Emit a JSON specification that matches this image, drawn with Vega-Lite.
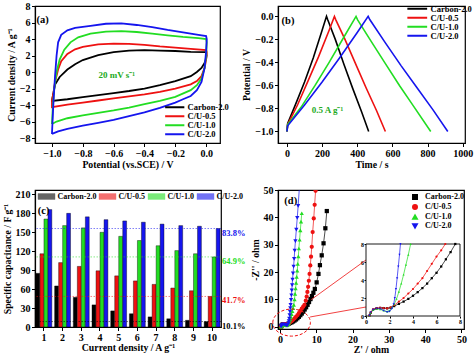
{
  "$schema": "https://vega.github.io/schema/vega-lite/v6.json",
  "autosize": {"type": "pad"},
  "padding": {"left": 1, "top": 0, "right": 0, "bottom": 0},
  "background": "white",
  "columns": 2,
  "spacing": {"row": 47, "column": 57},
  "bounds": "flush",
  "config": {
    "font": "Liberation Serif",
    "view": {"stroke": "black", "strokeWidth": 1.2},
    "axis": {"grid": false, "domainColor": "black", "domainWidth": 1.2, "tickColor": "black", "tickWidth": 1, "tickSize": 3.5, "labelColor": "black", "titleColor": "black", "labelFont": "Liberation Serif", "titleFont": "Liberation Serif", "labelFontWeight": "bold", "titleFontWeight": "bold", "labelFontSize": 10, "titleFontSize": 9.8, "labelPadding": 1.5, "titlePadding": 1, "labelOverlap": false, "labelFlush": false, "labelBound": false},
    "legend": {"labelFont": "Liberation Serif", "labelFontWeight": "bold", "labelFontSize": 8.5, "labelColor": "black", "padding": 0, "title": null},
    "text": {"font": "Liberation Serif", "fontWeight": "bold"}
  },
  "resolve": {"scale": {"color": "independent", "shape": "independent"}, "legend": {"color": "independent", "shape": "independent"}},
  "datasets": {
    "cv": [
      {"s":"Carbon-2.0","o":1,"e":-0.98,"j":-1.5},{"s":"Carbon-2.0","o":2,"e":-0.95,"j":-0.6},{"s":"Carbon-2.0","o":3,"e":-0.9,"j":0.3},{"s":"Carbon-2.0","o":4,"e":-0.85,"j":0.95},{"s":"Carbon-2.0","o":5,"e":-0.8,"j":1.45},{"s":"Carbon-2.0","o":6,"e":-0.7,"j":2.05},{"s":"Carbon-2.0","o":7,"e":-0.6,"j":2.4},{"s":"Carbon-2.0","o":8,"e":-0.5,"j":2.6},{"s":"Carbon-2.0","o":9,"e":-0.4,"j":2.65},{"s":"Carbon-2.0","o":10,"e":-0.3,"j":2.6},{"s":"Carbon-2.0","o":11,"e":-0.2,"j":2.55},{"s":"Carbon-2.0","o":12,"e":-0.1,"j":2.45},{"s":"Carbon-2.0","o":13,"e":0.0,"j":2.4},{"s":"Carbon-2.0","o":14,"e":0.003,"j":2.0},{"s":"Carbon-2.0","o":15,"e":0.0,"j":1.6},{"s":"Carbon-2.0","o":16,"e":-0.01,"j":1.1},{"s":"Carbon-2.0","o":17,"e":-0.03,"j":0.5},{"s":"Carbon-2.0","o":18,"e":-0.06,"j":0.0},{"s":"Carbon-2.0","o":19,"e":-0.1,"j":-0.5},{"s":"Carbon-2.0","o":20,"e":-0.2,"j":-1.1},{"s":"Carbon-2.0","o":21,"e":-0.3,"j":-1.6},{"s":"Carbon-2.0","o":22,"e":-0.4,"j":-2.0},{"s":"Carbon-2.0","o":23,"e":-0.5,"j":-2.3},{"s":"Carbon-2.0","o":24,"e":-0.6,"j":-2.55},{"s":"Carbon-2.0","o":25,"e":-0.7,"j":-2.8},{"s":"Carbon-2.0","o":26,"e":-0.8,"j":-3.05},{"s":"Carbon-2.0","o":27,"e":-0.9,"j":-3.3},{"s":"Carbon-2.0","o":28,"e":-1.0,"j":-3.5},{"s":"Carbon-2.0","o":29,"e":-0.99,"j":-2.5},{"s":"Carbon-2.0","o":30,"e":-0.98,"j":-1.5},
      {"s":"C/U-0.5","o":1,"e":-1.0,"j":-3.4},{"s":"C/U-0.5","o":2,"e":-0.99,"j":-2.5},{"s":"C/U-0.5","o":3,"e":-0.98,"j":-1.2},{"s":"C/U-0.5","o":4,"e":-0.96,"j":0.3},{"s":"C/U-0.5","o":5,"e":-0.94,"j":1.3},{"s":"C/U-0.5","o":6,"e":-0.9,"j":2.2},{"s":"C/U-0.5","o":7,"e":-0.85,"j":2.75},{"s":"C/U-0.5","o":8,"e":-0.8,"j":3.05},{"s":"C/U-0.5","o":9,"e":-0.7,"j":3.35},{"s":"C/U-0.5","o":10,"e":-0.6,"j":3.45},{"s":"C/U-0.5","o":11,"e":-0.5,"j":3.4},{"s":"C/U-0.5","o":12,"e":-0.4,"j":3.3},{"s":"C/U-0.5","o":13,"e":-0.3,"j":3.1},{"s":"C/U-0.5","o":14,"e":-0.2,"j":2.95},{"s":"C/U-0.5","o":15,"e":-0.1,"j":2.8},{"s":"C/U-0.5","o":16,"e":0.0,"j":2.65},{"s":"C/U-0.5","o":17,"e":0.004,"j":2.4},{"s":"C/U-0.5","o":18,"e":0.0,"j":1.5},{"s":"C/U-0.5","o":19,"e":-0.01,"j":0.5},{"s":"C/U-0.5","o":20,"e":-0.03,"j":-0.5},{"s":"C/U-0.5","o":21,"e":-0.06,"j":-1.1},{"s":"C/U-0.5","o":22,"e":-0.1,"j":-1.5},{"s":"C/U-0.5","o":23,"e":-0.2,"j":-2.0},{"s":"C/U-0.5","o":24,"e":-0.3,"j":-2.4},{"s":"C/U-0.5","o":25,"e":-0.4,"j":-2.7},{"s":"C/U-0.5","o":26,"e":-0.5,"j":-2.95},{"s":"C/U-0.5","o":27,"e":-0.6,"j":-3.2},{"s":"C/U-0.5","o":28,"e":-0.7,"j":-3.45},{"s":"C/U-0.5","o":29,"e":-0.8,"j":-3.7},{"s":"C/U-0.5","o":30,"e":-0.9,"j":-3.95},{"s":"C/U-0.5","o":31,"e":-1.0,"j":-4.25},{"s":"C/U-0.5","o":32,"e":-1.0,"j":-3.4},
      {"s":"C/U-1.0","o":1,"e":-1.0,"j":-6.3},{"s":"C/U-1.0","o":2,"e":-0.995,"j":-4.5},{"s":"C/U-1.0","o":3,"e":-0.985,"j":-2.0},{"s":"C/U-1.0","o":4,"e":-0.97,"j":0.0},{"s":"C/U-1.0","o":5,"e":-0.95,"j":1.5},{"s":"C/U-1.0","o":6,"e":-0.92,"j":2.7},{"s":"C/U-1.0","o":7,"e":-0.88,"j":3.6},{"s":"C/U-1.0","o":8,"e":-0.83,"j":4.2},{"s":"C/U-1.0","o":9,"e":-0.75,"j":4.65},{"s":"C/U-1.0","o":10,"e":-0.65,"j":4.9},{"s":"C/U-1.0","o":11,"e":-0.55,"j":4.95},{"s":"C/U-1.0","o":12,"e":-0.45,"j":4.85},{"s":"C/U-1.0","o":13,"e":-0.35,"j":4.65},{"s":"C/U-1.0","o":14,"e":-0.25,"j":4.45},{"s":"C/U-1.0","o":15,"e":-0.15,"j":4.25},{"s":"C/U-1.0","o":16,"e":-0.05,"j":4.1},{"s":"C/U-1.0","o":17,"e":0.0,"j":4.0},{"s":"C/U-1.0","o":18,"e":0.004,"j":3.6},{"s":"C/U-1.0","o":19,"e":0.0,"j":2.0},{"s":"C/U-1.0","o":20,"e":-0.01,"j":0.5},{"s":"C/U-1.0","o":21,"e":-0.03,"j":-0.8},{"s":"C/U-1.0","o":22,"e":-0.06,"j":-1.6},{"s":"C/U-1.0","o":23,"e":-0.1,"j":-2.2},{"s":"C/U-1.0","o":24,"e":-0.2,"j":-3.0},{"s":"C/U-1.0","o":25,"e":-0.3,"j":-3.5},{"s":"C/U-1.0","o":26,"e":-0.4,"j":-3.9},{"s":"C/U-1.0","o":27,"e":-0.5,"j":-4.3},{"s":"C/U-1.0","o":28,"e":-0.6,"j":-4.65},{"s":"C/U-1.0","o":29,"e":-0.7,"j":-4.95},{"s":"C/U-1.0","o":30,"e":-0.8,"j":-5.25},{"s":"C/U-1.0","o":31,"e":-0.9,"j":-5.6},{"s":"C/U-1.0","o":32,"e":-0.97,"j":-6.0},{"s":"C/U-1.0","o":33,"e":-1.0,"j":-6.3},
      {"s":"C/U-2.0","o":1,"e":-1.0,"j":-7.5},{"s":"C/U-2.0","o":2,"e":-0.995,"j":-5.5},{"s":"C/U-2.0","o":3,"e":-0.99,"j":-3.5},{"s":"C/U-2.0","o":4,"e":-0.98,"j":-0.5},{"s":"C/U-2.0","o":5,"e":-0.97,"j":2.0},{"s":"C/U-2.0","o":6,"e":-0.96,"j":3.6},{"s":"C/U-2.0","o":7,"e":-0.94,"j":4.5},{"s":"C/U-2.0","o":8,"e":-0.9,"j":5.05},{"s":"C/U-2.0","o":9,"e":-0.85,"j":5.35},{"s":"C/U-2.0","o":10,"e":-0.75,"j":5.6},{"s":"C/U-2.0","o":11,"e":-0.65,"j":5.85},{"s":"C/U-2.0","o":12,"e":-0.55,"j":5.9},{"s":"C/U-2.0","o":13,"e":-0.45,"j":5.7},{"s":"C/U-2.0","o":14,"e":-0.35,"j":5.45},{"s":"C/U-2.0","o":15,"e":-0.25,"j":5.1},{"s":"C/U-2.0","o":16,"e":-0.15,"j":4.8},{"s":"C/U-2.0","o":17,"e":-0.05,"j":4.5},{"s":"C/U-2.0","o":18,"e":0.0,"j":4.35},{"s":"C/U-2.0","o":19,"e":0.004,"j":4.0},{"s":"C/U-2.0","o":20,"e":0.0,"j":2.5},{"s":"C/U-2.0","o":21,"e":-0.01,"j":0.5},{"s":"C/U-2.0","o":22,"e":-0.03,"j":-1.2},{"s":"C/U-2.0","o":23,"e":-0.06,"j":-2.2},{"s":"C/U-2.0","o":24,"e":-0.1,"j":-2.9},{"s":"C/U-2.0","o":25,"e":-0.15,"j":-3.3},{"s":"C/U-2.0","o":26,"e":-0.2,"j":-3.7},{"s":"C/U-2.0","o":27,"e":-0.3,"j":-4.35},{"s":"C/U-2.0","o":28,"e":-0.4,"j":-4.9},{"s":"C/U-2.0","o":29,"e":-0.5,"j":-5.35},{"s":"C/U-2.0","o":30,"e":-0.6,"j":-5.8},{"s":"C/U-2.0","o":31,"e":-0.7,"j":-6.15},{"s":"C/U-2.0","o":32,"e":-0.8,"j":-6.5},{"s":"C/U-2.0","o":33,"e":-0.9,"j":-6.9},{"s":"C/U-2.0","o":34,"e":-0.96,"j":-7.2},{"s":"C/U-2.0","o":35,"e":-1.0,"j":-7.5}
    ],
    "gcd": [
      {"s":"Carbon-2.0","t":0,"v":-1.0},{"s":"Carbon-2.0","t":4,"v":-0.93},{"s":"Carbon-2.0","t":50,"v":-0.76},{"s":"Carbon-2.0","t":100,"v":-0.57},{"s":"Carbon-2.0","t":150,"v":-0.36},{"s":"Carbon-2.0","t":200,"v":-0.12},{"s":"Carbon-2.0","t":225,"v":0.0},{"s":"Carbon-2.0","t":232,"v":-0.03},{"s":"Carbon-2.0","t":275,"v":-0.2},{"s":"Carbon-2.0","t":325,"v":-0.42},{"s":"Carbon-2.0","t":375,"v":-0.63},{"s":"Carbon-2.0","t":425,"v":-0.83},{"s":"Carbon-2.0","t":465,"v":-1.0},
      {"s":"C/U-0.5","t":0,"v":-1.0},{"s":"C/U-0.5","t":4,"v":-0.94},{"s":"C/U-0.5","t":60,"v":-0.77},{"s":"C/U-0.5","t":120,"v":-0.56},{"s":"C/U-0.5","t":180,"v":-0.35},{"s":"C/U-0.5","t":240,"v":-0.12},{"s":"C/U-0.5","t":270,"v":0.0},{"s":"C/U-0.5","t":278,"v":-0.03},{"s":"C/U-0.5","t":330,"v":-0.2},{"s":"C/U-0.5","t":390,"v":-0.41},{"s":"C/U-0.5","t":450,"v":-0.62},{"s":"C/U-0.5","t":510,"v":-0.82},{"s":"C/U-0.5","t":560,"v":-1.0},
      {"s":"C/U-1.0","t":0,"v":-1.0},{"s":"C/U-1.0","t":4,"v":-0.94},{"s":"C/U-1.0","t":80,"v":-0.79},{"s":"C/U-1.0","t":160,"v":-0.6},{"s":"C/U-1.0","t":240,"v":-0.4},{"s":"C/U-1.0","t":320,"v":-0.19},{"s":"C/U-1.0","t":393,"v":0.0},{"s":"C/U-1.0","t":402,"v":-0.03},{"s":"C/U-1.0","t":480,"v":-0.22},{"s":"C/U-1.0","t":560,"v":-0.41},{"s":"C/U-1.0","t":640,"v":-0.6},{"s":"C/U-1.0","t":720,"v":-0.78},{"s":"C/U-1.0","t":818,"v":-1.0},
      {"s":"C/U-2.0","t":0,"v":-1.0},{"s":"C/U-2.0","t":4,"v":-0.95},{"s":"C/U-2.0","t":100,"v":-0.77},{"s":"C/U-2.0","t":200,"v":-0.57},{"s":"C/U-2.0","t":300,"v":-0.36},{"s":"C/U-2.0","t":400,"v":-0.14},{"s":"C/U-2.0","t":462,"v":0.0},{"s":"C/U-2.0","t":472,"v":-0.03},{"s":"C/U-2.0","t":560,"v":-0.23},{"s":"C/U-2.0","t":650,"v":-0.43},{"s":"C/U-2.0","t":740,"v":-0.62},{"s":"C/U-2.0","t":830,"v":-0.81},{"s":"C/U-2.0","t":915,"v":-1.0}
    ],
    "cap": [
      {"cd":"1","s":"Carbon-2.0","c":85},{"cd":"2","s":"Carbon-2.0","c":65},{"cd":"3","s":"Carbon-2.0","c":47},{"cd":"4","s":"Carbon-2.0","c":35},{"cd":"5","s":"Carbon-2.0","c":25.5},{"cd":"6","s":"Carbon-2.0","c":21},{"cd":"7","s":"Carbon-2.0","c":16},{"cd":"8","s":"Carbon-2.0","c":13},{"cd":"9","s":"Carbon-2.0","c":10.6},{"cd":"10","s":"Carbon-2.0","c":8.6},
      {"cd":"1","s":"C/U-0.5","c":116},{"cd":"2","s":"C/U-0.5","c":102},{"cd":"3","s":"C/U-0.5","c":96},{"cd":"4","s":"C/U-0.5","c":89},{"cd":"5","s":"C/U-0.5","c":81},{"cd":"6","s":"C/U-0.5","c":73},{"cd":"7","s":"C/U-0.5","c":67.5},{"cd":"8","s":"C/U-0.5","c":61.7},{"cd":"9","s":"C/U-0.5","c":57.4},{"cd":"10","s":"C/U-0.5","c":48.4},
      {"cd":"1","s":"C/U-1.0","c":171},{"cd":"2","s":"C/U-1.0","c":160.6},{"cd":"3","s":"C/U-1.0","c":157},{"cd":"4","s":"C/U-1.0","c":150},{"cd":"5","s":"C/U-1.0","c":143.6},{"cd":"6","s":"C/U-1.0","c":137},{"cd":"7","s":"C/U-1.0","c":128.7},{"cd":"8","s":"C/U-1.0","c":121},{"cd":"9","s":"C/U-1.0","c":116},{"cd":"10","s":"C/U-1.0","c":111},
      {"cd":"1","s":"C/U-2.0","c":186},{"cd":"2","s":"C/U-2.0","c":180},{"cd":"3","s":"C/U-2.0","c":174.5},{"cd":"4","s":"C/U-2.0","c":170},{"cd":"5","s":"C/U-2.0","c":168},{"cd":"6","s":"C/U-2.0","c":166},{"cd":"7","s":"C/U-2.0","c":163},{"cd":"8","s":"C/U-2.0","c":160.6},{"cd":"9","s":"C/U-2.0","c":159.6},{"cd":"10","s":"C/U-2.0","c":156}
    ],
    "pct": [
      {"s":"C/U-2.0","line":156,"lab":"83.8%"},
      {"s":"C/U-1.0","line":111,"lab":"64.9%"},
      {"s":"C/U-0.5","line":48.4,"lab":"41.7%"},
      {"s":"Carbon-2.0","line":8.6,"lab":"10.1%"}
    ],
    "eis": [
      {"s":"Carbon-2.0","zr":0.3,"zi":0.05},{"s":"Carbon-2.0","zr":0.4,"zi":0.35},{"s":"Carbon-2.0","zr":0.6,"zi":0.7},{"s":"Carbon-2.0","zr":0.9,"zi":0.85},{"s":"Carbon-2.0","zr":1.2,"zi":0.9},{"s":"Carbon-2.0","zr":1.5,"zi":0.88},{"s":"Carbon-2.0","zr":1.8,"zi":0.85},{"s":"Carbon-2.0","zr":2.1,"zi":0.92},{"s":"Carbon-2.0","zr":2.4,"zi":1.1},{"s":"Carbon-2.0","zr":2.8,"zi":1.35},{"s":"Carbon-2.0","zr":3.2,"zi":1.6},{"s":"Carbon-2.0","zr":3.6,"zi":1.9},{"s":"Carbon-2.0","zr":4.0,"zi":2.25},{"s":"Carbon-2.0","zr":4.4,"zi":2.65},{"s":"Carbon-2.0","zr":4.8,"zi":3.1},{"s":"Carbon-2.0","zr":5.2,"zi":3.6},{"s":"Carbon-2.0","zr":5.6,"zi":4.2},{"s":"Carbon-2.0","zr":6.0,"zi":4.8},{"s":"Carbon-2.0","zr":6.4,"zi":5.5},{"s":"Carbon-2.0","zr":6.8,"zi":6.3},{"s":"Carbon-2.0","zr":7.2,"zi":7.1},{"s":"Carbon-2.0","zr":7.6,"zi":8.0},{"s":"Carbon-2.0","zr":8.0,"zi":9.0},{"s":"Carbon-2.0","zr":8.4,"zi":10.1},{"s":"Carbon-2.0","zr":8.8,"zi":11.2},{"s":"Carbon-2.0","zr":9.2,"zi":12.4},{"s":"Carbon-2.0","zr":9.6,"zi":13.8},{"s":"Carbon-2.0","zr":10.1,"zi":16.2},{"s":"Carbon-2.0","zr":10.6,"zi":19.3},{"s":"Carbon-2.0","zr":11.0,"zi":22.5},{"s":"Carbon-2.0","zr":11.5,"zi":26.1},{"s":"Carbon-2.0","zr":12.0,"zi":30.5},{"s":"Carbon-2.0","zr":12.5,"zi":36},{"s":"Carbon-2.0","zr":12.9,"zi":42.3},
      {"s":"C/U-0.5","zr":0.3,"zi":0.05},{"s":"C/U-0.5","zr":0.4,"zi":0.4},{"s":"C/U-0.5","zr":0.6,"zi":0.75},{"s":"C/U-0.5","zr":0.9,"zi":0.88},{"s":"C/U-0.5","zr":1.2,"zi":0.9},{"s":"C/U-0.5","zr":1.5,"zi":0.88},{"s":"C/U-0.5","zr":1.8,"zi":0.85},{"s":"C/U-0.5","zr":2.1,"zi":0.95},{"s":"C/U-0.5","zr":2.4,"zi":1.2},{"s":"C/U-0.5","zr":2.8,"zi":1.6},{"s":"C/U-0.5","zr":3.2,"zi":2.0},{"s":"C/U-0.5","zr":3.6,"zi":2.5},{"s":"C/U-0.5","zr":4.0,"zi":3.0},{"s":"C/U-0.5","zr":4.4,"zi":3.6},{"s":"C/U-0.5","zr":4.8,"zi":4.2},{"s":"C/U-0.5","zr":5.2,"zi":5.0},{"s":"C/U-0.5","zr":5.6,"zi":5.8},{"s":"C/U-0.5","zr":6.0,"zi":6.6},{"s":"C/U-0.5","zr":6.4,"zi":7.3},{"s":"C/U-0.5","zr":6.75,"zi":8.0},{"s":"C/U-0.5","zr":7.1,"zi":9.5},{"s":"C/U-0.5","zr":7.35,"zi":11},{"s":"C/U-0.5","zr":7.55,"zi":12.7},{"s":"C/U-0.5","zr":7.75,"zi":14.6},{"s":"C/U-0.5","zr":7.95,"zi":16.8},{"s":"C/U-0.5","zr":8.15,"zi":19.3},{"s":"C/U-0.5","zr":8.35,"zi":22.4},{"s":"C/U-0.5","zr":8.55,"zi":25.6},{"s":"C/U-0.5","zr":8.75,"zi":29.2},{"s":"C/U-0.5","zr":9.0,"zi":34.6},{"s":"C/U-0.5","zr":9.3,"zi":39.6},{"s":"C/U-0.5","zr":9.55,"zi":44.6},{"s":"C/U-0.5","zr":9.8,"zi":49.7},{"s":"C/U-0.5","zr":10.0,"zi":55},
      {"s":"C/U-1.0","zr":0.3,"zi":0.05},{"s":"C/U-1.0","zr":0.4,"zi":0.35},{"s":"C/U-1.0","zr":0.6,"zi":0.65},{"s":"C/U-1.0","zr":0.9,"zi":0.8},{"s":"C/U-1.0","zr":1.2,"zi":0.75},{"s":"C/U-1.0","zr":1.5,"zi":0.6},{"s":"C/U-1.0","zr":1.8,"zi":0.5},{"s":"C/U-1.0","zr":2.0,"zi":0.6},{"s":"C/U-1.0","zr":2.2,"zi":0.9},{"s":"C/U-1.0","zr":2.4,"zi":1.3},{"s":"C/U-1.0","zr":2.6,"zi":1.9},{"s":"C/U-1.0","zr":2.8,"zi":2.7},{"s":"C/U-1.0","zr":3.0,"zi":3.6},{"s":"C/U-1.0","zr":3.2,"zi":4.6},{"s":"C/U-1.0","zr":3.4,"zi":5.7},{"s":"C/U-1.0","zr":3.6,"zi":6.8},{"s":"C/U-1.0","zr":3.8,"zi":8.0},{"s":"C/U-1.0","zr":4.0,"zi":10},{"s":"C/U-1.0","zr":4.15,"zi":12},{"s":"C/U-1.0","zr":4.3,"zi":14},{"s":"C/U-1.0","zr":4.45,"zi":16},{"s":"C/U-1.0","zr":4.6,"zi":18.2},{"s":"C/U-1.0","zr":4.75,"zi":20.5},{"s":"C/U-1.0","zr":4.9,"zi":23},{"s":"C/U-1.0","zr":5.05,"zi":25.7},{"s":"C/U-1.0","zr":5.2,"zi":28.6},{"s":"C/U-1.0","zr":5.4,"zi":31.8},{"s":"C/U-1.0","zr":5.6,"zi":35.2},{"s":"C/U-1.0","zr":5.8,"zi":38.4},{"s":"C/U-1.0","zr":6.0,"zi":41.5},
      {"s":"C/U-2.0","zr":0.3,"zi":0.05},{"s":"C/U-2.0","zr":0.4,"zi":0.4},{"s":"C/U-2.0","zr":0.6,"zi":0.7},{"s":"C/U-2.0","zr":0.9,"zi":0.85},{"s":"C/U-2.0","zr":1.2,"zi":0.8},{"s":"C/U-2.0","zr":1.5,"zi":0.6},{"s":"C/U-2.0","zr":1.8,"zi":0.45},{"s":"C/U-2.0","zr":2.0,"zi":0.5},{"s":"C/U-2.0","zr":2.2,"zi":0.8},{"s":"C/U-2.0","zr":2.35,"zi":1.3},{"s":"C/U-2.0","zr":2.45,"zi":2.0},{"s":"C/U-2.0","zr":2.55,"zi":3.0},{"s":"C/U-2.0","zr":2.65,"zi":4.2},{"s":"C/U-2.0","zr":2.75,"zi":5.5},{"s":"C/U-2.0","zr":2.85,"zi":6.8},{"s":"C/U-2.0","zr":2.93,"zi":8.0},{"s":"C/U-2.0","zr":3.05,"zi":9.8},{"s":"C/U-2.0","zr":3.15,"zi":11.5},{"s":"C/U-2.0","zr":3.25,"zi":13.3},{"s":"C/U-2.0","zr":3.35,"zi":15.2},{"s":"C/U-2.0","zr":3.45,"zi":17.2},{"s":"C/U-2.0","zr":3.6,"zi":19.5},{"s":"C/U-2.0","zr":3.75,"zi":22},{"s":"C/U-2.0","zr":3.9,"zi":24.8},{"s":"C/U-2.0","zr":4.05,"zi":27.8},{"s":"C/U-2.0","zr":4.25,"zi":31.3},{"s":"C/U-2.0","zr":4.5,"zi":35.5},{"s":"C/U-2.0","zr":4.75,"zi":39.8},{"s":"C/U-2.0","zr":5.0,"zi":44.2},{"s":"C/U-2.0","zr":5.4,"zi":52}
    ],
    "links": [
      {"xa":8.5,"ya":9.8,"xb":23.7,"yb":24.4},
      {"xa":8.3,"ya":3.55,"xb":23.7,"yb":7.2}
    ],
    "annA": [
      {"x":-1.06,"y":6.35,"lab":"(a)","k":"tag"},
      {"x":-0.58,"y":-0.3,"lab":"20 mV s⁻¹","k":"note"}
    ],
    "annB": [
      {"x":6,"y":-0.04,"lab":"(b)","k":"tag"},
      {"x":230,"y":-0.81,"lab":"0.5 A g⁻¹","k":"note"}
    ]
  },
  "concat": [
    {
      "width": 185, "height": 137,
      "layer": [
        {
          "data": {"name": "cv"},
          "mark": {"type": "line", "strokeWidth": 1.8},
          "encoding": {
            "x": {"field": "e", "type": "quantitative", "scale": {"domain": [-1.11, 0.09], "nice": false, "zero": false}, "axis": {"values": [-1, -0.8, -0.6, -0.4, -0.2, 0], "format": ".1f", "title": "Potential (vs.SCE) / V", "labelOverlap": false, "labelFlush": false}},
            "y": {"field": "j", "type": "quantitative", "scale": {"domain": [-8.6, 8], "nice": false, "zero": false}, "axis": {"values": [-8, -6, -4, -2, 0, 2, 4, 6, 8], "format": "d", "title": "Current density / A g⁻¹", "titlePadding": 3, "labelOverlap": false, "labelFlush": false}},
            "order": {"field": "o", "type": "quantitative"},
            "color": {"field": "s", "type": "nominal", "scale": {"domain": ["Carbon-2.0", "C/U-0.5", "C/U-1.0", "C/U-2.0"], "range": ["#000000", "#ee1111", "#22dd22", "#1515ee"]},
              "legend": {"orient": "none", "legendX": 135.5, "legendY": 97, "symbolType": "M-3.2,0H3.2", "symbolSize": 36, "symbolStrokeWidth": 2, "labelOffset": 8.5, "rowPadding": -1.2}}
          }
        },
        {
          "data": {"name": "annA"},
          "mark": {"type": "text", "align": "center"},
          "encoding": {
            "x": {"field": "x", "type": "quantitative", "scale": {"domain": [-1.11, 0.09], "nice": false, "zero": false}, "axis": {"values": [-1, -0.8, -0.6, -0.4, -0.2, 0], "format": ".1f", "title": "Potential (vs.SCE) / V", "labelOverlap": false, "labelFlush": false}},
            "y": {"field": "y", "type": "quantitative", "scale": {"domain": [-8.6, 8], "nice": false, "zero": false}, "axis": {"values": [-8, -6, -4, -2, 0, 2, 4, 6, 8], "format": "d", "title": "Current density / A g⁻¹", "titlePadding": 3, "labelOverlap": false, "labelFlush": false}},
            "text": {"field": "lab"},
            "color": {"condition": {"test": "datum.k === 'note'", "value": "#22aa22"}, "value": "black"},
            "size": {"condition": {"test": "datum.k === 'note'", "value": 9}, "value": 10.5}
          }
        }
      ]
    },
    {
      "width": 187, "height": 137,
      "layer": [
        {
          "data": {"name": "gcd"},
          "mark": {"type": "line", "strokeWidth": 1.6},
          "encoding": {
            "x": {"field": "t", "type": "quantitative", "scale": {"domain": [-51, 1013], "nice": false, "zero": false}, "axis": {"values": [0, 200, 400, 600, 800, 1000], "format": "d", "title": "Time / s", "labelOverlap": false, "labelFlush": false}},
            "y": {"field": "v", "type": "quantitative", "scale": {"domain": [-1.1, 0.09], "nice": false, "zero": false}, "axis": {"values": [-1, -0.8, -0.6, -0.4, -0.2, 0], "format": ".1f", "title": "Potential / V", "titlePadding": 3, "labelOverlap": false, "labelFlush": false}},
            "color": {"field": "s", "type": "nominal", "scale": {"domain": ["Carbon-2.0", "C/U-0.5", "C/U-1.0", "C/U-2.0"], "range": ["#000000", "#ee1111", "#22dd22", "#1515ee"]},
              "legend": {"orient": "none", "legendX": 135, "legendY": -1.5, "symbolType": "M-3.3,0H3.3", "symbolSize": 36, "symbolStrokeWidth": 2, "labelOffset": 9, "rowPadding": -0.8}}
          }
        },
        {
          "data": {"name": "annB"},
          "mark": {"type": "text", "align": "center"},
          "encoding": {
            "x": {"field": "x", "type": "quantitative", "scale": {"domain": [-51, 1013], "nice": false, "zero": false}, "axis": {"values": [0, 200, 400, 600, 800, 1000], "format": "d", "title": "Time / s", "labelOverlap": false, "labelFlush": false}},
            "y": {"field": "y", "type": "quantitative", "scale": {"domain": [-1.1, 0.09], "nice": false, "zero": false}, "axis": {"values": [-1, -0.8, -0.6, -0.4, -0.2, 0], "format": ".1f", "title": "Potential / V", "titlePadding": 3, "labelOverlap": false, "labelFlush": false}},
            "text": {"field": "lab"},
            "color": {"condition": {"test": "datum.k === 'note'", "value": "#22aa22"}, "value": "black"},
            "size": {"condition": {"test": "datum.k === 'note'", "value": 9}, "value": 10.5}
          }
        }
      ]
    },
    {
      "width": 186, "height": 137,
      "layer": [
        {
          "data": {"name": "cap"},
          "mark": {"type": "bar", "stroke": "black", "strokeWidth": 0.4},
          "encoding": {
            "x": {"field": "cd", "type": "nominal", "sort": ["1","2","3","4","5","6","7","8","9","10"], "scale": {"paddingInner": 0.15, "paddingOuter": 0.05}, "axis": {"labelAngle": 0, "title": "Current density / A g⁻¹", "labelPadding": 1.5, "titlePadding": 0, "labelOverlap": false}},
            "xOffset": {"field": "s", "type": "nominal", "sort": ["Carbon-2.0", "C/U-0.5", "C/U-1.0", "C/U-2.0"], "scale": {"paddingInner": 0.04}},
            "y": {"field": "c", "type": "quantitative", "scale": {"domain": [0, 217], "nice": false}, "axis": {"values": [0, 30, 60, 90, 120, 150, 180, 210], "format": "d", "title": "Specific capacitance / F g⁻¹", "titlePadding": 3, "labelOverlap": false, "labelFlush": false}},
            "color": {"field": "s", "type": "nominal", "scale": {"domain": ["Carbon-2.0", "C/U-0.5", "C/U-1.0", "C/U-2.0"], "range": ["#000000", "#ee1111", "#22dd22", "#1515ee"]},
              "legend": {"orient": "none", "legendX": 2.5, "legendY": -2.5, "direction": "horizontal", "symbolType": "M-1,-0.35H1V0.35H-1Z", "symbolSize": 289, "symbolStrokeColor": "black", "symbolStrokeWidth": 0.4, "labelOffset": 2, "columnPadding": 1, "labelFontSize": 8}}
          }
        },
        {
          "data": {"name": "pct"},
          "mark": {"type": "rule", "strokeDash": [1.5, 1.5], "strokeWidth": 0.9, "opacity": 0.6},
          "encoding": {
            "y": {"field": "line", "type": "quantitative", "scale": {"domain": [0, 217], "nice": false}, "axis": {"values": [0, 30, 60, 90, 120, 150, 180, 210], "format": "d", "title": "Specific capacitance / F g⁻¹", "titlePadding": 3, "labelOverlap": false, "labelFlush": false}},
            "color": {"field": "s", "type": "nominal"}
          }
        },
        {
          "data": {"name": "pct"},
          "mark": {"type": "text", "fontSize": 8.5, "align": "left", "baseline": "top", "dx": 10, "dy": 0},
          "encoding": {
            "x": {"datum": "10", "type": "nominal", "axis": {"labelAngle": 0, "title": "Current density / A g⁻¹", "labelPadding": 1.5, "titlePadding": 0, "labelOverlap": false}},
            "y": {"field": "line", "type": "quantitative", "scale": {"domain": [0, 217], "nice": false}, "axis": {"values": [0, 30, 60, 90, 120, 150, 180, 210], "format": "d", "title": "Specific capacitance / F g⁻¹", "titlePadding": 3, "labelOverlap": false, "labelFlush": false}},
            "text": {"field": "lab"},
            "color": {"field": "s", "type": "nominal"}
          }
        },
        {
          "data": {"values": [{"lab": "(c)", "cap": 184}]},
          "mark": {"type": "text", "fontSize": 10.5, "align": "left", "color": "black"},
          "encoding": {
            "x": {"datum": "1", "type": "nominal", "axis": {"labelAngle": 0, "title": "Current density / A g⁻¹", "labelPadding": 1.5, "titlePadding": 0, "labelOverlap": false}},
            "y": {"field": "cap", "type": "quantitative", "scale": {"domain": [0, 217], "nice": false}, "axis": {"values": [0, 30, 60, 90, 120, 150, 180, 210], "format": "d", "title": "Specific capacitance / F g⁻¹", "titlePadding": 3, "labelOverlap": false, "labelFlush": false}},
            "xOffset": {"datum": "Carbon-2.0"},
            "text": {"field": "lab"}
          }
        }
      ]
    },
    {
      "width": 186, "height": 139,
      "resolve": {"scale": {"x": "independent", "y": "independent"}},
      "layer": [
        {
          "layer": [
            {
              "data": {"name": "eis"},
              "mark": {"type": "line", "strokeWidth": 0.7, "clip": true},
              "encoding": {
                "x": {"field": "zr", "type": "quantitative", "scale": {"domain": [-0.55, 50.7], "nice": false, "zero": false}, "axis": {"values": [0, 10, 20, 30, 40, 50], "format": "d", "title": "Z' / ohm", "titlePadding": 0, "labelOverlap": false, "labelFlush": false}},
                "y": {"field": "zi", "type": "quantitative", "scale": {"domain": [-0.85, 50], "nice": false, "zero": false}, "axis": {"values": [0, 10, 20, 30, 40, 50], "format": "d", "title": "-Z'' / ohm", "titlePadding": 3, "labelOverlap": false, "labelFlush": false}},
                "color": {"field": "s", "type": "nominal", "scale": {"domain": ["Carbon-2.0", "C/U-0.5", "C/U-1.0", "C/U-2.0"], "range": ["#000000", "#ee1111", "#22dd22", "#1515ee"]}}
              }
            },
            {
              "data": {"name": "eis"},
              "mark": {"type": "point", "filled": true, "size": 18, "opacity": 1, "clip": true},
              "encoding": {
                "x": {"field": "zr", "type": "quantitative", "scale": {"domain": [-0.55, 50.7], "nice": false, "zero": false}, "axis": {"values": [0, 10, 20, 30, 40, 50], "format": "d", "title": "Z' / ohm", "titlePadding": 0, "labelOverlap": false, "labelFlush": false}},
                "y": {"field": "zi", "type": "quantitative", "scale": {"domain": [-0.85, 50], "nice": false, "zero": false}, "axis": {"values": [0, 10, 20, 30, 40, 50], "format": "d", "title": "-Z'' / ohm", "titlePadding": 3, "labelOverlap": false, "labelFlush": false}},
                "color": {"field": "s", "type": "nominal",
                  "legend": {"orient": "none", "legendX": 133, "legendY": 3, "symbolSize": 20, "labelOffset": 6, "rowPadding": -4, "labelFontSize": 8}},
                "shape": {"field": "s", "type": "nominal", "scale": {"domain": ["Carbon-2.0", "C/U-0.5", "C/U-1.0", "C/U-2.0"], "range": ["square", "circle", "triangle-up", "triangle-down"]}}
              }
            },
            {
              "data": {"values": [{"cx": 3.2, "cy": 1.5}]},
              "mark": {"type": "point", "shape": "M-1,0A1,0.72 0 1,1 1,0A1,0.72 0 1,1 -1,0Z", "size": 1414, "filled": false, "stroke": "#ee1111", "strokeWidth": 1, "strokeDash": [3, 2], "opacity": 1},
              "encoding": {
                "x": {"field": "cx", "type": "quantitative", "scale": {"domain": [-0.55, 50.7], "nice": false, "zero": false}, "axis": {"values": [0, 10, 20, 30, 40, 50], "format": "d", "title": "Z' / ohm", "titlePadding": 0, "labelOverlap": false, "labelFlush": false}},
                "y": {"field": "cy", "type": "quantitative", "scale": {"domain": [-0.85, 50], "nice": false, "zero": false}, "axis": {"values": [0, 10, 20, 30, 40, 50], "format": "d", "title": "-Z'' / ohm", "titlePadding": 3, "labelOverlap": false, "labelFlush": false}}
              }
            },
            {
              "data": {"name": "links"},
              "mark": {"type": "rule", "color": "#ee1111", "strokeWidth": 0.8},
              "encoding": {
                "x": {"field": "xa", "type": "quantitative", "scale": {"domain": [-0.55, 50.7], "nice": false, "zero": false}, "axis": {"values": [0, 10, 20, 30, 40, 50], "format": "d", "title": "Z' / ohm", "titlePadding": 0, "labelOverlap": false, "labelFlush": false}},
                "y": {"field": "ya", "type": "quantitative", "scale": {"domain": [-0.85, 50], "nice": false, "zero": false}, "axis": {"values": [0, 10, 20, 30, 40, 50], "format": "d", "title": "-Z'' / ohm", "titlePadding": 3, "labelOverlap": false, "labelFlush": false}},
                "x2": {"field": "xb"},
                "y2": {"field": "yb"}
              }
            },
            {
              "data": {"values": [{"lab": "(d)", "tx": 1.2, "ty": 46}]},
              "mark": {"type": "text", "fontSize": 10.5, "align": "left", "color": "black"},
              "encoding": {
                "x": {"field": "tx", "type": "quantitative", "scale": {"domain": [-0.55, 50.7], "nice": false, "zero": false}, "axis": {"values": [0, 10, 20, 30, 40, 50], "format": "d", "title": "Z' / ohm", "titlePadding": 0, "labelOverlap": false, "labelFlush": false}},
                "y": {"field": "ty", "type": "quantitative", "scale": {"domain": [-0.85, 50], "nice": false, "zero": false}, "axis": {"values": [0, 10, 20, 30, 40, 50], "format": "d", "title": "-Z'' / ohm", "titlePadding": 3, "labelOverlap": false, "labelFlush": false}},
                "text": {"field": "lab"}
              }
            }
          ]
        },
        {
          "layer": [
            {
              "data": {"values": [{"a0": 0, "a1": 8}]},
              "mark": {"type": "rect", "fill": "white", "stroke": "black", "strokeWidth": 0.9},
              "encoding": {
                "x": {"field": "a0", "type": "quantitative", "scale": {"domain": [0, 8], "range": [88, 182], "nice": false, "zero": false},
                  "axis": {"orient": "bottom", "offset": -13, "values": [0, 2, 4, 6, 8], "title": null, "labelFontSize": 6, "tickSize": 2, "labelPadding": 0.5, "domain": false, "format": "d", "labelOverlap": false, "labelFlush": false}},
                "x2": {"field": "a1"},
                "y": {"field": "a0", "type": "quantitative", "scale": {"domain": [0, 8], "range": [126, 54], "nice": false, "zero": false},
                  "axis": {"orient": "left", "offset": -88, "values": [0, 2, 4, 6, 8], "title": null, "labelFontSize": 6, "tickSize": 2, "labelPadding": 0.5, "domain": false, "format": "d", "labelOverlap": false, "labelFlush": false}},
                "y2": {"field": "a1"}
              }
            },
            {
              "data": {"name": "eis"},
              "transform": [{"filter": "datum.zr <= 8 && datum.zi <= 8.05"}],
              "mark": {"type": "line", "strokeWidth": 0.7},
              "encoding": {
                "x": {"field": "zr", "type": "quantitative", "scale": {"domain": [0, 8], "range": [88, 182], "nice": false, "zero": false},
                  "axis": {"orient": "bottom", "offset": -13, "values": [0, 2, 4, 6, 8], "title": null, "labelFontSize": 6, "tickSize": 2, "labelPadding": 0.5, "domain": false, "format": "d", "labelOverlap": false, "labelFlush": false}},
                "y": {"field": "zi", "type": "quantitative", "scale": {"domain": [0, 8], "range": [126, 54], "nice": false, "zero": false},
                  "axis": {"orient": "left", "offset": -88, "values": [0, 2, 4, 6, 8], "title": null, "labelFontSize": 6, "tickSize": 2, "labelPadding": 0.5, "domain": false, "format": "d", "labelOverlap": false, "labelFlush": false}},
                "color": {"field": "s", "type": "nominal"}
              }
            },
            {
              "data": {"name": "eis"},
              "transform": [{"filter": "datum.zr <= 8 && datum.zi <= 8.05"}],
              "mark": {"type": "point", "filled": true, "size": 5, "opacity": 1},
              "encoding": {
                "x": {"field": "zr", "type": "quantitative", "scale": {"domain": [0, 8], "range": [88, 182], "nice": false, "zero": false},
                  "axis": {"orient": "bottom", "offset": -13, "values": [0, 2, 4, 6, 8], "title": null, "labelFontSize": 6, "tickSize": 2, "labelPadding": 0.5, "domain": false, "format": "d", "labelOverlap": false, "labelFlush": false}},
                "y": {"field": "zi", "type": "quantitative", "scale": {"domain": [0, 8], "range": [126, 54], "nice": false, "zero": false},
                  "axis": {"orient": "left", "offset": -88, "values": [0, 2, 4, 6, 8], "title": null, "labelFontSize": 6, "tickSize": 2, "labelPadding": 0.5, "domain": false, "format": "d", "labelOverlap": false, "labelFlush": false}},
                "color": {"field": "s", "type": "nominal"},
                "shape": {"field": "s", "type": "nominal"}
              }
            }
          ]
        }
      ]
    }
  ]
}
